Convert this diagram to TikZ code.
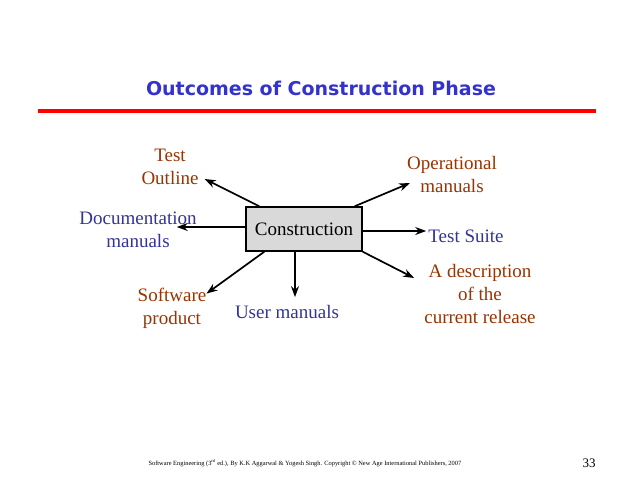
\documentclass[tikz,border=0pt]{standalone}
\usepackage{fontspec}
\setmainfont{Liberation Serif}
\newfontfamily\titlefont{DejaVu Sans}
\usepackage{tikz}
\usetikzlibrary{arrows.meta}

\definecolor{titleblue}{RGB}{51,51,204}
\definecolor{itemblue}{RGB}{51,51,153}
\definecolor{itembrown}{RGB}{153,51,0}

\tikzset{
  outbrown/.style={inner sep=0pt, align=center, text=itembrown, font=\fontsize{19}{23}\selectfont},
  outblue/.style={inner sep=0pt, align=center, text=itemblue, font=\fontsize{19}{23}\selectfont},
  arr/.style={-{Stealth[length=11pt,width=8pt]}, line width=1.7pt}
}

\begin{document}
\begin{tikzpicture}[x=1pt,y=-1pt]

\useasboundingbox (0,0) rectangle (638,493);

\node [text=titleblue, font=\titlefont\bfseries\fontsize{19}{23}\selectfont] (title) at (321,88) {Outcomes of Construction Phase};
\draw [red, line width=4pt] (38,111) -- (596,111);

\node [draw, line width=1.5pt, fill=gray!30, minimum width=116pt, minimum height=44pt, font=\fontsize{19}{23}\selectfont] (con) at (304,229) {Construction};

\node [outbrown] (outline) at (170,167) {Test\\Outline};
\node [outblue] (doc) at (138,230) {Documentation\\manuals};
\node [outbrown] (sw) at (172,308) {Software\\product};
\node [outblue] (um) at (287,312) {User manuals};
\node [outbrown] (op) at (452,174) {Operational\\manuals};
\node [outblue] (ts) at (466,236) {Test Suite};
\node [outbrown] (desc) at (480,294) {A description\\of the\\current release};

\draw[arr] ([shift={(14,0)}]con.north west) -- ([shift={(6,12)}]outline.east);
\draw[arr] ([shift={(0,-2)}]con.west) -- ([shift={(-20,-3)}]doc.east);
\draw[arr] ([shift={(19,0)}]con.south west) -- ([shift={(0,6)}]sw.north east);
\draw[arr] ([shift={(-9,0)}]con.south) -- ([shift={(8,-8)}]um.north);
\draw[arr] ([shift={(-8,0)}]con.north east) -- ([shift={(3,9)}]op.west);
\draw[arr] ([shift={(0,2)}]con.east) -- ([shift={(-2,-5)}]ts.west);
\draw[arr] (con.south east) -- ([shift={(-10,-16)}]desc.west);

\node [anchor=west, font=\fontsize{6.4}{8}\selectfont] (foot) at (145,463) {Software Engineering (3\textsuperscript{rd} ed.), By K.K Aggarwal \& Yogesh Singh. Copyright \textcopyright{} New Age International Publishers, 2007};
\node [font=\fontsize{13}{15}\selectfont] (page) at (589,463) {33};

\end{tikzpicture}
\end{document}
